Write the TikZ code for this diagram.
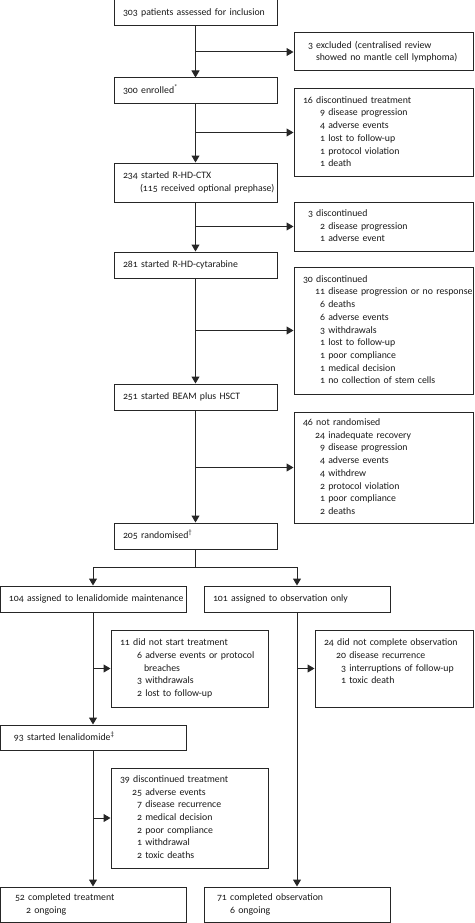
\documentclass[tikz,border=0pt]{standalone}
\usepackage{fontspec}
\setmainfont[Numbers=OldStyle]{Carlito}
\usetikzlibrary{arrows.meta}

\newcommand{\subline}[2]{\hspace*{12pt}\makebox[10pt][r]{#1}\ #2}
\newcommand{\boxlines}[1]{\begin{tabular}{@{}l@{}}#1\end{tabular}}

\begin{document}
\begin{tikzpicture}[x=1pt, y=-1pt,
  box/.style={draw=black!85, line width=1pt, inner xsep=9pt, inner ysep=0pt, align=left,
    font=\fontsize{9.8}{12.7}\selectfont, text=black!90},
  arrow/.style={draw=black!85, line width=1pt, -{Triangle[length=7pt, width=8pt]}}]

\useasboundingbox (0,0) rectangle (474,923);

% nodes
\node [box, text width=145pt, minimum height=26pt] (A) at (195.5, 13) {\boxlines{303 patients assessed for inclusion}};
\node [box, text width=161pt, minimum height=38pt] (B) at (383.5, 52) {\boxlines{\hspace*{5pt}3 excluded (centralised review\\ \hspace*{13pt}showed no mantle cell lymphoma)}};
\node [box, text width=145pt, minimum height=26pt] (C) at (195.5, 91) {\boxlines{300 enrolled\textsuperscript{*}}};
\node [box, text width=161pt, minimum height=87pt] (D) at (383.5, 132.5) {\boxlines{16 discontinued treatment\\ \subline{9}{disease progression}\\ \subline{4}{adverse events}\\ \subline{1}{lost to follow-up}\\ \subline{1}{protocol violation}\\ \subline{1}{death}}};
\node [box, text width=145pt, minimum height=39pt] (E) at (195.5, 182.5) {\boxlines{234 started R-HD-CTX\\ \hspace*{17pt}(115 received optional prephase)}};
\node [box, text width=161pt, minimum height=49pt] (F) at (383.5, 226.5) {\boxlines{\hspace*{5pt}3 discontinued\\ \subline{2}{disease progression}\\ \subline{1}{adverse event}}};
\node [box, text width=145pt, minimum height=26pt] (G) at (195.5, 265) {\boxlines{281 started R-HD-cytarabine}};
\node [box, text width=161pt, minimum height=127pt] (H) at (383.5, 330.5) {\boxlines{30 discontinued\\ \subline{11}{disease progression or no response}\\ \subline{6}{deaths}\\ \subline{6}{adverse events}\\ \subline{3}{withdrawals}\\ \subline{1}{lost to follow-up}\\ \subline{1}{poor compliance}\\ \subline{1}{medical decision}\\ \subline{1}{no collection of stem cells}}};
\node [box, text width=145pt, minimum height=26pt] (I) at (195.5, 397) {\boxlines{251 started BEAM plus HSCT}};
\node [box, text width=161pt, minimum height=111pt] (J) at (383.5, 467.5) {\boxlines{46 not randomised\\ \subline{24}{inadequate recovery}\\ \subline{9}{disease progression}\\ \subline{4}{adverse events}\\ \subline{4}{withdrew}\\ \subline{2}{protocol violation}\\ \subline{1}{poor compliance}\\ \subline{2}{deaths}}};
\node [box, text width=145pt, minimum height=26pt] (K) at (195.5, 536) {\boxlines{205 randomised\textsuperscript{\textdagger}}};

\node [box, text width=168pt, minimum height=26pt] (L) at (93, 599) {\boxlines{104 assigned to lenalidomide maintenance}};
\node [box, text width=168pt, minimum height=26pt] (M) at (297, 599) {\boxlines{101 assigned to observation only}};
\node [box, text width=139pt, minimum height=77pt] (N) at (189.5, 668.5) {\boxlines{11 did not start treatment\\ \subline{6}{adverse events or protocol}\\ \hspace*{24pt}breaches\\ \subline{3}{withdrawals}\\ \subline{2}{lost to follow-up}}};
\node [box, text width=140pt, minimum height=77pt] (O) at (394, 668.5) {\boxlines{24 did not complete observation\\ \subline{20}{disease recurrence}\\ \subline{3}{interruptions of follow-up}\\ \subline{1}{toxic death}\\ {}}};
\node [box, text width=168pt, minimum height=25pt] (P) at (93, 737.5) {\boxlines{\hspace*{5pt}93 started lenalidomide\textsuperscript{\textdaggerdbl}}};
\node [box, text width=139pt, minimum height=100pt] (Q) at (189.5, 818) {\boxlines{39 discontinued treatment\\ \subline{25}{adverse events}\\ \subline{7}{disease recurrence}\\ \subline{2}{medical decision}\\ \subline{2}{poor compliance}\\ \subline{1}{withdrawal}\\ \subline{2}{toxic deaths}}};
\node [box, text width=168pt, minimum height=35pt] (R) at (93, 904.5) {\boxlines{\hspace*{6pt}52 completed treatment\\ \subline{2}{ongoing}}};
\node [box, text width=168pt, minimum height=35pt] (S) at (297, 904.5) {\boxlines{\hspace*{4pt}71 completed observation\\ \subline{6}{ongoing}}};

\coordinate (T) at (195.5, 567);

\path [every edge/.style=arrow]
    (A) edge (C) (C) edge (E) (E) edge (G) (G) edge (I) (I) edge (K)
    (A.south |- B.west) edge (B.west)
    (C.south |- D.west) edge (D.west)
    (E.south |- F.west) edge (F.west)
    (G.south |- H.west) edge (H.west)
    (I.south |- J.west) edge (J.west)
    (L) edge (P) (P) edge (R)
    (L.south |- N.west) edge (N.west)
    (P.south |- Q.west) edge (Q.west)
    (M) edge (S)
    (M.south |- O.west) edge (O.west)
    ;
\draw [draw=black!85, line width=1pt] (K) -- (T);
\draw [arrow] (T) -| (L);
\draw [arrow] (T) -| (M);
\end{tikzpicture}
\end{document}
